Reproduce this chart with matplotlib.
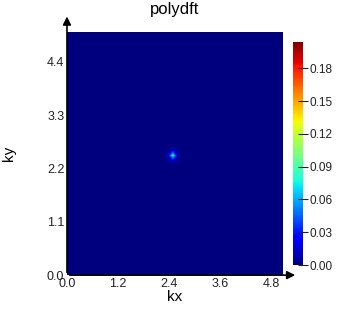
import numpy as np
import matplotlib
matplotlib.use("Agg")
import matplotlib.pyplot as plt

plt.rcParams['font.family'] = ['Liberation Sans', 'DejaVu Sans']

# axis ranges and ticks
kx_range = [0.0, 5.06]
ky_range = [0.0, 5.02]
kx_ticks = [0.0, 1.2, 2.4, 3.6, 4.8]
ky_ticks = [0.0, 1.1, 2.2, 3.3, 4.4]
cbar_ticks = [0.00, 0.03, 0.06, 0.09, 0.12, 0.15, 0.18]
vmax = 0.204

# grid size and the small bright spot near the centre
n_grid = 101
peak_kx = 2.5
peak_ky = 2.48
peak_patch = [
    [0.001, 0.002, 0.004, 0.008, 0.004, 0.002, 0.001],
    [0.002, 0.004, 0.007, 0.012, 0.007, 0.004, 0.002],
    [0.004, 0.007, 0.022, 0.050, 0.022, 0.007, 0.004],
    [0.008, 0.012, 0.050, 0.095, 0.050, 0.012, 0.008],
    [0.004, 0.007, 0.022, 0.050, 0.022, 0.007, 0.004],
    [0.002, 0.004, 0.007, 0.012, 0.007, 0.004, 0.002],
    [0.001, 0.002, 0.004, 0.008, 0.004, 0.002, 0.001],
]

z = np.zeros((n_grid, n_grid))
ci = int(round((peak_ky - ky_range[0]) / (ky_range[1] - ky_range[0]) * (n_grid - 1)))
cj = int(round((peak_kx - kx_range[0]) / (kx_range[1] - kx_range[0]) * (n_grid - 1)))
p = np.array(peak_patch)
h = p.shape[0] // 2
z[ci - h:ci + h + 1, cj - h:cj + h + 1] = p

fig = plt.figure(figsize=(3.4, 3.13), dpi=100)
ax = fig.add_axes([0.197, 0.121, 0.635, 0.777])
im = ax.imshow(z, cmap='jet', vmin=0, vmax=vmax, origin='lower', aspect='auto',
               extent=[kx_range[0], kx_range[1], ky_range[0], ky_range[1]],
               interpolation='bilinear')
ax.set_xlim(kx_range)
ax.set_ylim(ky_range)
ax.set_xticks(kx_ticks)
ax.set_yticks(ky_ticks)
ax.set_xticklabels([f'{t:.1f}' for t in kx_ticks])
ax.set_yticklabels([f'{t:.1f}' for t in ky_ticks])
ax.tick_params(length=0, labelsize=9, colors='#222222', pad=2)
for s in ax.spines.values():
    s.set_visible(False)

# axis lines with arrow heads
ax.annotate('', xy=(0, 1.075), xytext=(0, 0), xycoords='axes fraction',
            arrowprops=dict(arrowstyle='-|>', color='black', lw=1.2,
                            mutation_scale=12), annotation_clip=False)
ax.annotate('', xy=(1.07, 0), xytext=(0, 0), xycoords='axes fraction',
            arrowprops=dict(arrowstyle='-|>', color='black', lw=1.2,
                            mutation_scale=12), annotation_clip=False)

ax.set_title('polydft', fontsize=12, pad=13)
ax.set_xlabel('kx', fontsize=11, labelpad=0)
ax.set_ylabel('ky', fontsize=11, labelpad=22)

cax = fig.add_axes([0.862, 0.153, 0.029, 0.713])
cb = fig.colorbar(im, cax=cax, ticks=cbar_ticks)
cb.outline.set_visible(False)
cb.ax.set_yticklabels([f'{t:.2f}' for t in cbar_ticks])
cb.ax.tick_params(direction='inout', length=7, width=0.8, labelsize=8.5,
                  colors='#222222', pad=1)

fig.savefig('out.png', dpi=100)
